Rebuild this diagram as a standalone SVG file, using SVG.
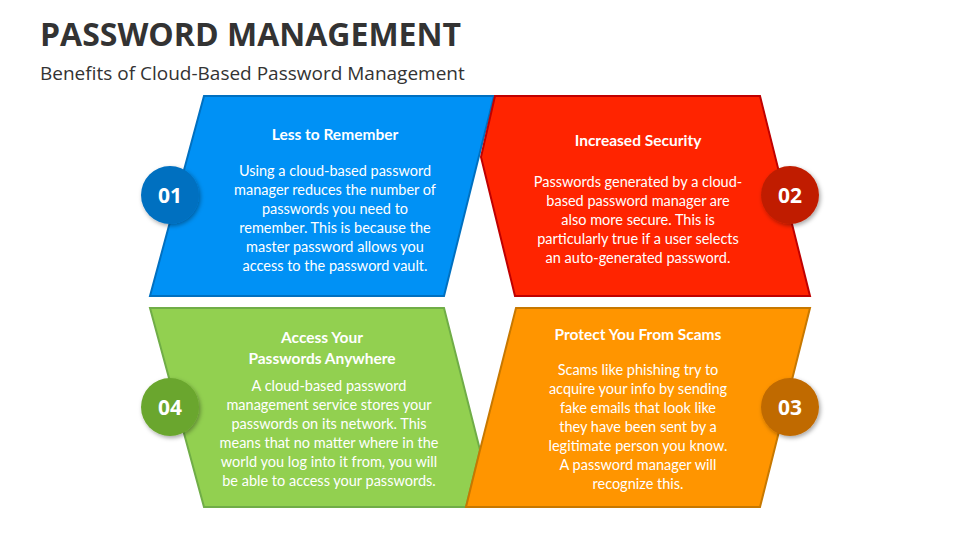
<svg xmlns="http://www.w3.org/2000/svg" width="960" height="540" viewBox="0 0 960 540">
<style>
.t{font-family:Lato,"Open Sans",sans-serif;fill:#fff;text-anchor:middle}
.h{font-size:15.5px;font-weight:bold}
.b{font-size:14.5px}
.n{font-family:"Open Sans",sans-serif;font-size:21px;font-weight:bold;fill:#fff;text-anchor:middle}
</style>
<defs><filter id="sh" x="-30%" y="-30%" width="160%" height="160%"><feDropShadow dx="1.5" dy="2" stdDeviation="2" flood-opacity="0.35"/></filter></defs>
<rect width="960" height="540" fill="#fff"/>
<text x="40" y="46" font-family="Open Sans,sans-serif" font-size="32" font-weight="bold" fill="#333">PASSWORD MANAGEMENT</text>
<text x="40" y="80" font-family="Open Sans,sans-serif" font-size="19" fill="#333">Benefits of Cloud-Based Password Management</text>
<g id="n1">
<polygon points="204,96 494,96 444,296 150,296" fill="#0091F5" stroke="#0070C0" stroke-width="2"/>
<text class="t h" x="335" y="140">Less to Remember</text>
<text class="t b"><tspan x="335" y="176">Using a cloud-based password</tspan><tspan x="335" y="195">manager reduces the number of</tspan><tspan x="335" y="214">passwords you need to</tspan><tspan x="335" y="233">remember. This is because the</tspan><tspan x="335" y="252">master password allows you</tspan><tspan x="335" y="271">access to the password vault.</tspan></text>
<circle cx="170" cy="195" r="29" fill="#0070C0" filter="url(#sh)"/><text class="n" x="170" y="203">01</text>
</g>
<g id="n2">
<polygon points="495,96 760,96 810,296 515,296 481,157" fill="#FF2400" stroke="#C00000" stroke-width="2"/>
<text class="t h" x="638" y="146">Increased Security</text>
<text class="t b"><tspan x="638" y="187">Passwords generated by a cloud-</tspan><tspan x="638" y="206">based password manager are</tspan><tspan x="638" y="225">also more secure. This is</tspan><tspan x="638" y="244">particularly true if a user selects</tspan><tspan x="638" y="263">an auto-generated password.</tspan></text>
<circle cx="790" cy="195" r="29" fill="#C01E00" filter="url(#sh)"/><text class="n" x="790" y="203">02</text>
</g>
<g id="n4">
<polygon points="150,308 444,308 480,450 466,507 204,507" fill="#92D050" stroke="#70AD47" stroke-width="2"/>
<text class="t h"><tspan x="322" y="343">Access Your</tspan><tspan x="322" y="364">Passwords Anywhere</tspan></text>
<text class="t b"><tspan x="329" y="391">A cloud-based password</tspan><tspan x="329" y="410">management service stores your</tspan><tspan x="329" y="429">passwords on its network. This</tspan><tspan x="329" y="448">means that no matter where in the</tspan><tspan x="329" y="467">world you log into it from, you will</tspan><tspan x="329" y="486">be able to access your passwords.</tspan></text>
<circle cx="170" cy="407" r="29" fill="#6AA62E" filter="url(#sh)"/><text class="n" x="170" y="415">04</text>
</g>
<g id="n3">
<polygon points="516,308 810,308 760,507 466,507 480,450" fill="#FF9500" stroke="#C77800" stroke-width="2"/>
<text class="t h" x="638" y="340">Protect You From Scams</text>
<text class="t b"><tspan x="638" y="375">Scams like phishing try to</tspan><tspan x="638" y="394">acquire your info by sending</tspan><tspan x="638" y="413">fake emails that look like</tspan><tspan x="638" y="432">they have been sent by a</tspan><tspan x="638" y="451">legitimate person you know.</tspan><tspan x="638" y="470">A password manager will</tspan><tspan x="638" y="489">recognize this.</tspan></text>
<circle cx="790" cy="407" r="29" fill="#C06A00" filter="url(#sh)"/><text class="n" x="790" y="415">03</text>
</g>
<g id="connectors"/>
</svg>
